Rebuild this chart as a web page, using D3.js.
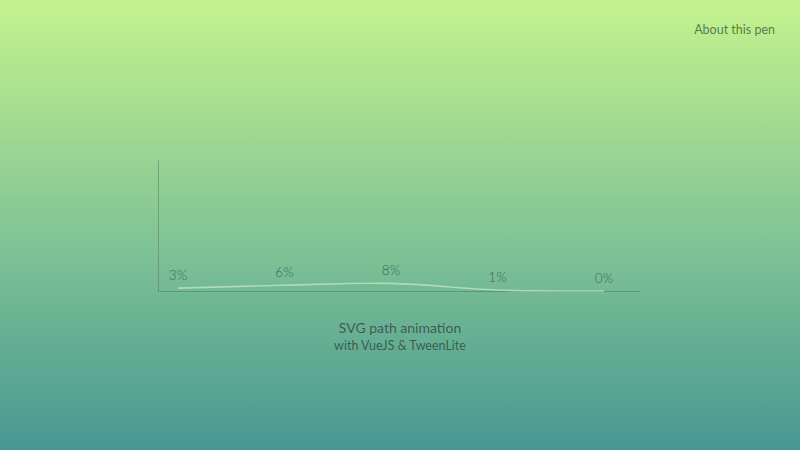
<!DOCTYPE html>
<html>
<head>
<meta charset="utf-8">
<script src="https://cdn.jsdelivr.net/npm/d3@7"></script>
<style>
  html, body { margin: 0; padding: 0; width: 800px; height: 450px; overflow: hidden; }
  svg { display: block; }
</style>
</head>
<body>
<script>
const categories = ["a", "b", "c", "d", "e"];
const values = [3, 6, 8, 1, 0];
const valueLabels = ["3%", "6%", "8%", "1%", "0%"];
const title = "SVG path animation";
const subtitle = "with VueJS & TweenLite";
const linkText = "About this pen";

const W = 800, H = 450;
const svg = d3.select("body").append("svg").attr("width", W).attr("height", H);

const defs = svg.append("defs");
const grad = defs.append("linearGradient").attr("id", "bg").attr("x1", 0).attr("y1", 0).attr("x2", 0).attr("y2", 1);
grad.append("stop").attr("offset", "0%").attr("stop-color", "#c4f28e");
grad.append("stop").attr("offset", "50%").attr("stop-color", "#85c794");
grad.append("stop").attr("offset", "100%").attr("stop-color", "#489793");
svg.append("rect").attr("width", W).attr("height", H).attr("fill", "url(#bg)");

const x = d3.scalePoint().domain(categories).range([178, 604]);
const y = d3.scaleLinear().domain([0, 137]).range([291, 160]);

// axes
const axisColor = "rgba(60,90,70,0.35)";
const xAxis = svg.append("g").attr("transform", "translate(0,291)")
  .call(d3.axisBottom(d3.scaleLinear().range([158, 640])).ticks(0).tickSize(0));
xAxis.select(".domain").attr("stroke", axisColor).attr("stroke-width", 1);
xAxis.selectAll("text").remove();
const yAxis = svg.append("g").attr("transform", "translate(158,0)")
  .call(d3.axisLeft(y).ticks(0).tickSize(0));
yAxis.select(".domain").attr("stroke", axisColor).attr("stroke-width", 1);
yAxis.selectAll("text").remove();

const data = categories.map((c, i) => ({c, v: values[i], l: valueLabels[i]}));

const line = d3.line().x(d => x(d.c)).y(d => y(d.v)).curve(d3.curveCatmullRom);
svg.append("path").datum(data).attr("d", line)
  .attr("fill", "none").attr("stroke", "rgba(220,245,220,0.55)").attr("stroke-width", 1.6);

svg.append("g").selectAll("text").data(data).join("text")
  .attr("x", d => x(d.c)).attr("y", d => y(d.v) - 8)
  .attr("text-anchor", "middle")
  .attr("font-family", "Lato, 'Open Sans', sans-serif")
  .attr("font-weight", 300)
  .attr("font-size", 13.5)
  .attr("fill", "#3f6a50")
  .text(d => d.l);

svg.append("text").attr("x", 400).attr("y", 333).attr("text-anchor", "middle")
  .attr("font-family", "Lato, 'Open Sans', sans-serif").attr("font-size", 14)
  .attr("fill", "#2f4f45").attr("fill-opacity", 0.85).text(title);
svg.append("text").attr("x", 400).attr("y", 350).attr("text-anchor", "middle")
  .attr("font-family", "Lato, 'Open Sans', sans-serif").attr("font-size", 12.5)
  .attr("fill", "#2f4f45").attr("fill-opacity", 0.85).text(subtitle);
svg.append("text").attr("x", 775).attr("y", 34).attr("text-anchor", "end")
  .attr("font-family", "Lato, 'Open Sans', sans-serif").attr("font-size", 12.5)
  .attr("fill", "#4d6e45").attr("fill-opacity", 0.9).text(linkText);
</script>
</body>
</html>
